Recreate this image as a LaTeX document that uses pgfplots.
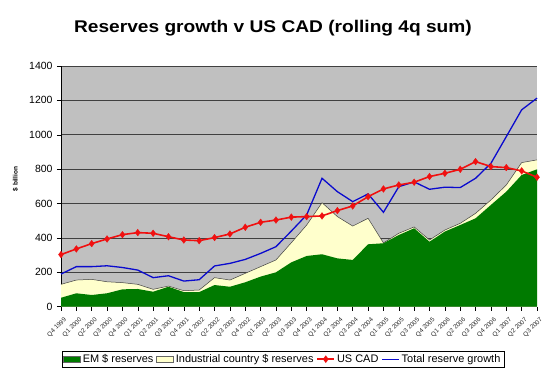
\documentclass[border=0pt]{standalone}
\usepackage{graphicx}
\usepackage{fontspec}
\setmainfont{Liberation Sans}
\usepackage{pgfplots}
\usepackage{pgfplotstable}
\pgfplotsset{compat=1.18}
\definecolor{plotgray}{HTML}{C0C0C0}
\definecolor{emgreen}{HTML}{007A00}
\definecolor{cream}{HTML}{FFFFCC}
\definecolor{cadred}{HTML}{F01010}
\definecolor{totblue}{HTML}{0A0ACE}
\pgfplotstableread{
i em ind cad total
0 52 78 303 190
1 78 77 336 233
2 68 91 367 233
3 78 67 394 238
4 101 39 419 228
5 103 27 431 213
6 87 14 427 169
7 116 4 407 180
8 85 8 388 149
9 85 12 384 157
10 126 43 402 237
11 116 39 423 252
12 142 52 462 275
13 175 58 491 310
14 200 72 504 349
15 258 114 521 440
16 295 180 524 534
17 305 300 528 747
18 281 243 559 669
19 272 197 586 611
20 363 151 640 656
21 369 2 685 549
22 417 10 708 698
23 456 8 724 726
24 378 10 757 683
25 437 9 776 695
26 475 10 799 693
27 514 29 844 747
28 592 29 815 834
29 669 39 809 989
30 766 72 790 1145
31 799 55 753 1213
}\datatable
\begin{document}
\begin{tikzpicture}
\useasboundingbox (0,0) rectangle (547bp,374bp);
\node[anchor=base, font=\bfseries\fontsize{17}{20}\selectfont] at (273bp,341bp) {\scalebox{1.13}[1]{Reserves growth v US CAD (rolling 4q sum)}};
\node[rotate=90, font=\bfseries\fontsize{6.5}{8}\selectfont] at (15.5bp,195bp) {\$ billion};
\begin{axis}[
  at={(61bp,67.3bp)}, anchor=south west,
  scale only axis, width=476bp, height=240.7bp,
  xmin=0, xmax=31, ymin=0, ymax=1400,
  axis background/.style={fill=plotgray},
  axis x line*=bottom, axis y line*=left,
  axis line style={black, line width=0.6pt},
  tick align=outside, major tick length=4bp,
  tick style={black, line width=0.5pt},
  ytick={0,200,...,1400},
  ymajorgrids, grid style={black!75, line width=0.6pt},
  xtick={0,...,31},
  xticklabels={Q4 1999,Q1 2000,Q2 2000,Q3 2000,Q4 2000,Q1 2001,Q2 2001,Q3 2001,Q4 2001,Q1 2002,Q2 2002,Q3 2002,Q4 2002,Q1 2003,Q2 2003,Q3 2003,Q4 2003,Q1 2004,Q2 2004,Q3 2004,Q4 2004,Q1 2005,Q2 2005,Q3 2005,Q4 2005,Q1 2006,Q2 2006,Q3 2006,Q4 2006,Q1 2007,Q2 2007,Q3 2007},
  xticklabel style={rotate=45, anchor=east, font=\fontsize{6.3}{7}\selectfont, text=black!85, xshift=-2bp, yshift=-9bp, inner sep=0.5pt},
  yticklabel style={font=\fontsize{10.5}{12}\selectfont, xshift=-1bp},
  /pgf/number format/assume math mode=true,
  /pgf/number format/1000 sep={},
  legend columns=4,
  legend style={at={(0.466,-0.218)}, anchor=center, draw=black, line width=0.5pt, fill=white,
    font=\fontsize{11}{12}\selectfont, inner sep=1.5pt,
    /tikz/every even column/.append style={column sep=1pt}},
  legend cell align=left,
  clip=false,
]
\addlegendimage{area legend, fill=emgreen, draw=black!60}
\addlegendentry{EM \$ reserves}
\addlegendimage{area legend, fill=cream, draw=black!60}
\addlegendentry{Industrial country \$ reserves}
\addlegendimage{cadred, line width=1.5pt, mark=diamond*, mark size=2.6pt}
\addlegendentry{US CAD}
\addlegendimage{totblue, line width=1.3pt}
\addlegendentry{Total reserve growth}
\addplot[fill=cream, draw=none, forget plot] table[x=i, y expr=\thisrow{em}+\thisrow{ind}] {\datatable} \closedcycle;
\addplot[black!75, line width=0.5pt, forget plot] table[x=i, y expr=\thisrow{em}+\thisrow{ind}] {\datatable};
\addplot[fill=emgreen, draw=none, forget plot] table[x=i, y=em] {\datatable} \closedcycle;
\addplot[totblue, line width=1.3pt, forget plot] table[x=i, y=total] {\datatable};
\addplot[cadred, line width=1.6pt, mark=diamond*, mark size=3.4pt, mark options={fill=cadred, draw=cadred, line width=0.3pt}, forget plot] table[x=i, y=cad] {\datatable};
\end{axis}
\end{tikzpicture}
\end{document}
